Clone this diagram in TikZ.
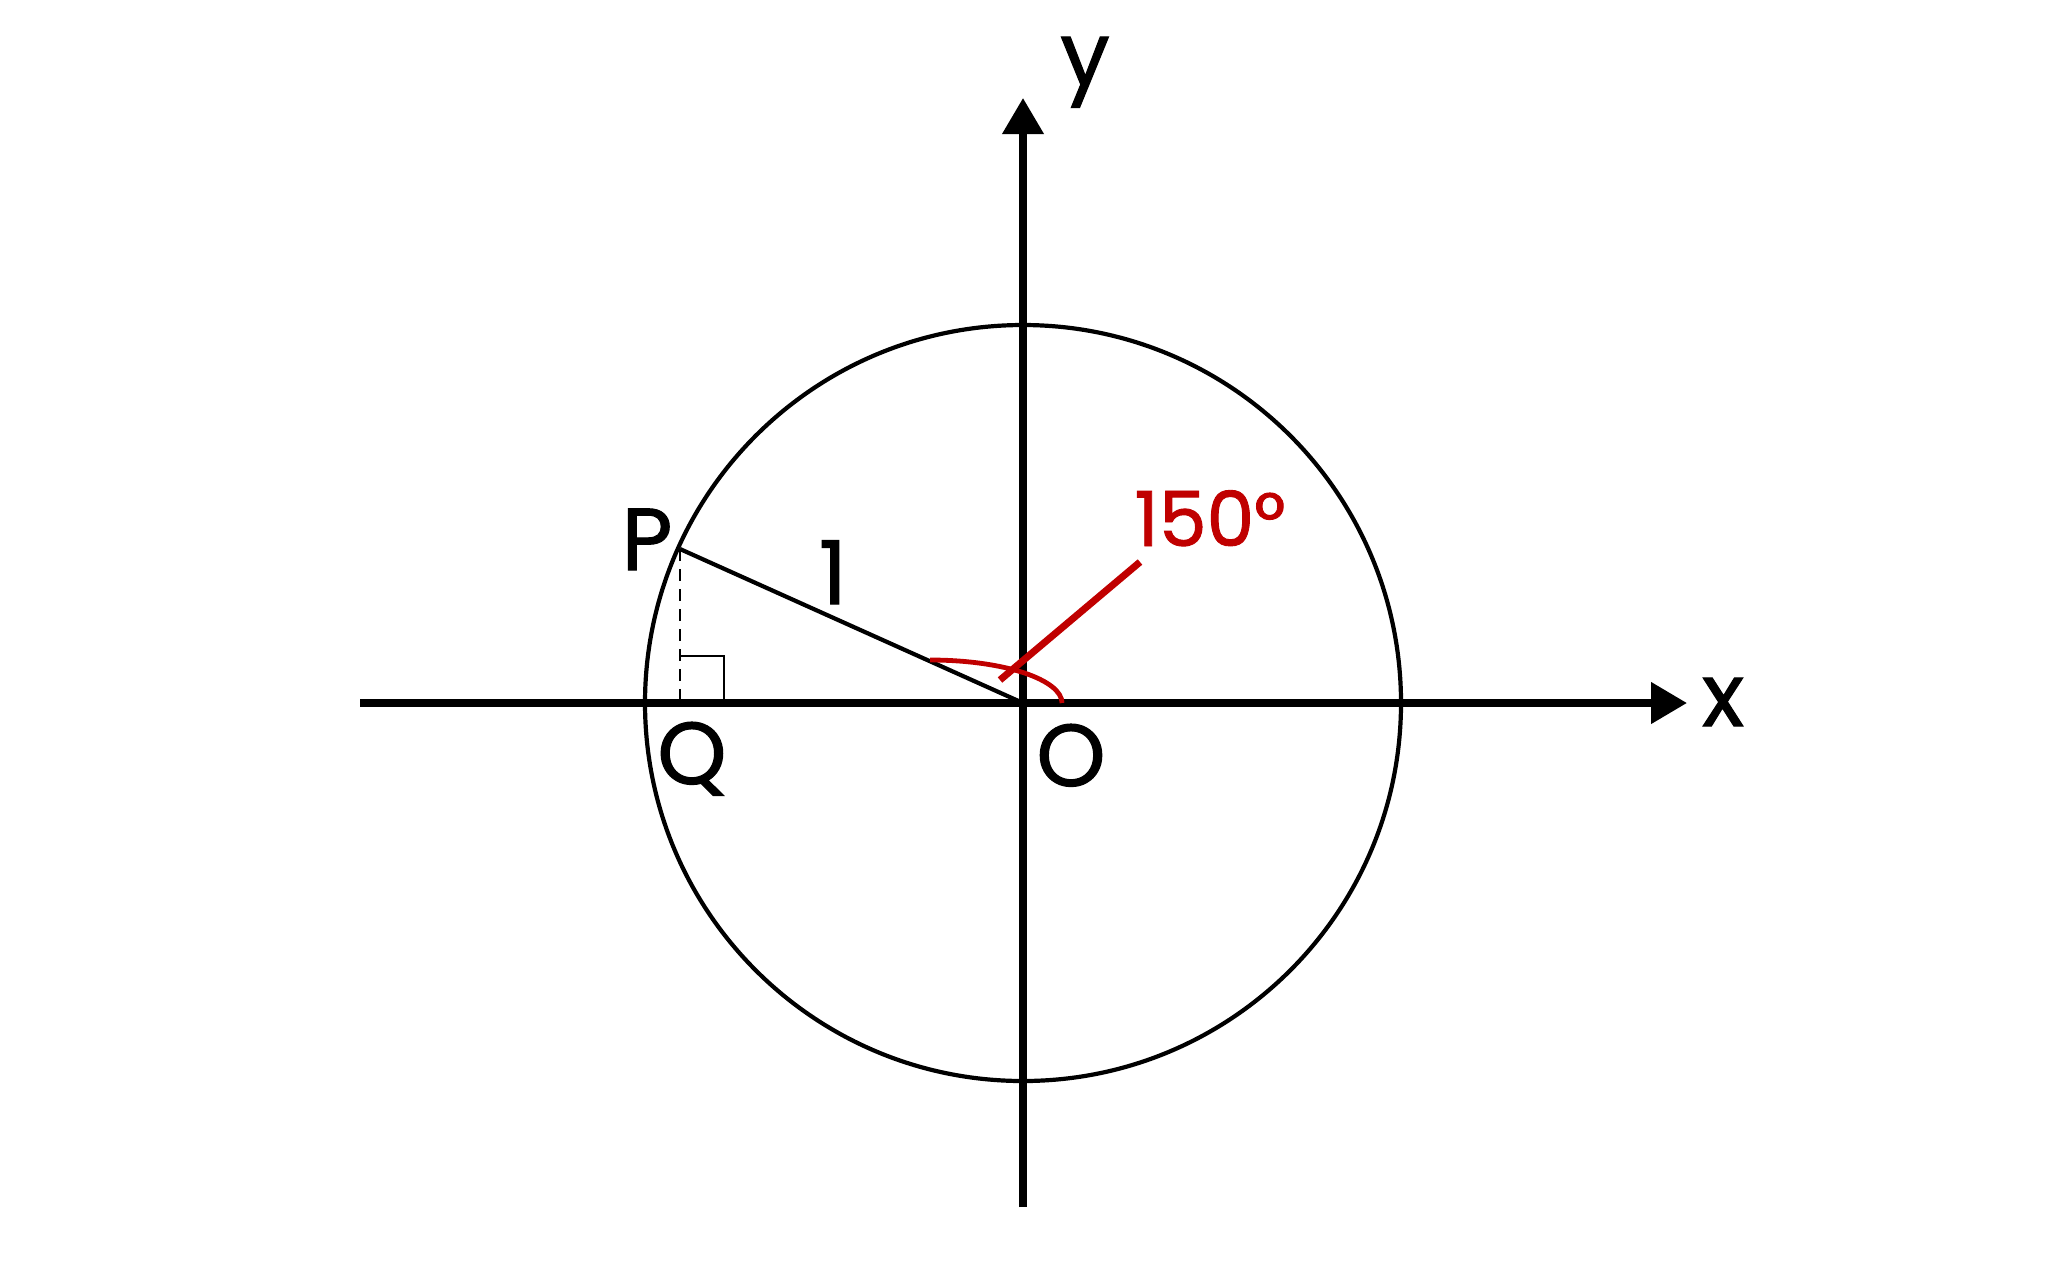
\documentclass[tikz,border=0pt]{standalone}
\usepackage{fontspec}
\setmainfont{Poppins}[FakeBold=1.2]
\usetikzlibrary{arrows.meta}
\definecolor{angred}{HTML}{C00000}
\tikzset{
  axisline/.style={line width=3.8pt, -{Triangle[length=18pt,width=20pt]}},
  lbl/.style={inner sep=0pt, anchor=base, font=\fontsize{44}{44}\selectfont},
  redlbl/.style={inner sep=0pt, anchor=base, text=angred, font=\fontsize{38}{38}\selectfont},
}
\begin{document}
\begin{tikzpicture}[x=0.5pt,y=-0.5pt]
\useasboundingbox (0,0) rectangle (2048,1271);
\coordinate (O) at (1023,703);
\coordinate (P) at (680,549);
\coordinate (Q) at (680,703);
\coordinate (xs) at (360,703);
\coordinate (xe) at (1687,703);
\coordinate (ys) at (1023,1207);
\coordinate (ye) at (1023,98);
\coordinate (r1) at (1000,680);
\coordinate (r2) at (1140,562);
\coordinate (a1) at (930,660);
\coordinate (a2) at (1062,703);
% circle
\draw[line width=2.1pt] (O) circle[radius=378];
% axes
\draw[axisline] (xs) -- (xe);
\draw[axisline, line width=3.6pt] (ys) -- (ye);
% triangle
\draw[line width=2.1pt] (O) -- (P);
\draw[line width=1pt, dash pattern=on 6pt off 4pt] (P) -- (Q);
\draw[line width=1pt] (680,656) -- (724,656) -- (724,703);
% angle
\draw[angred, line width=2.4pt] (a1) .. controls (1005,660) and (1062,680) .. (a2);
\draw[angred, line width=3.5pt] (r1) -- (r2);
% labels
\node[lbl] (ylab) at (1085,85) {y};
\node[lbl] (xlab) at (1723,726) {x};
\node[lbl] (olab) at (1071,786) {O};
\node[lbl] (qlab) at (692,784) {Q};
\node[lbl] (plab) at (647,570) {P};
\node[lbl] (onelab) at (833,604) {1};
\node[redlbl] (anglab) at (1210,546) {150°};
\end{tikzpicture}
\end{document}
